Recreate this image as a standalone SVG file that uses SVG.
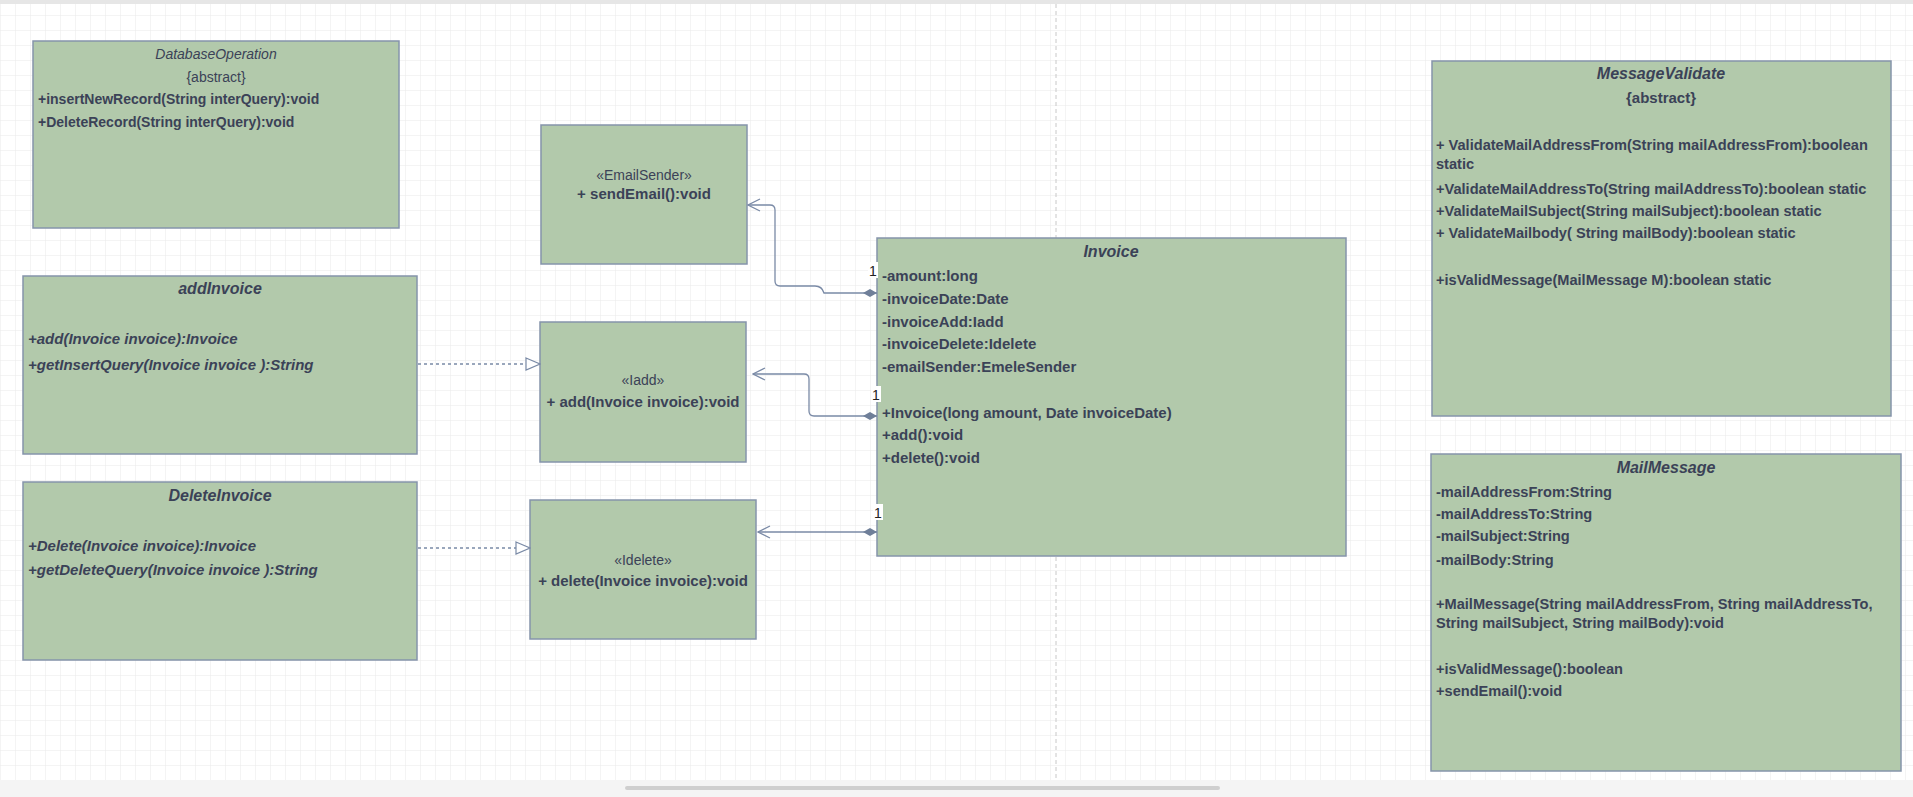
<svg xmlns="http://www.w3.org/2000/svg" width="1913" height="797" viewBox="0 0 1913 797">
<defs>
<pattern id="g" width="15" height="15" patternUnits="userSpaceOnUse"><path d="M15 0H0V15" fill="none" stroke="#e9e9e9" stroke-width="1"/></pattern>
<marker id="open" markerWidth="14" markerHeight="14" refX="13" refY="7" orient="auto" markerUnits="userSpaceOnUse"><path d="M1 1L13 7L1 13" fill="none" stroke="#7a8aa6" stroke-width="1.3"/></marker>
<marker id="tri" markerWidth="16" markerHeight="16" refX="15" refY="8" orient="auto" markerUnits="userSpaceOnUse"><path d="M1 2L15 8L1 14Z" fill="#fff" stroke="#7a8aa6" stroke-width="1.2"/></marker>
<marker id="dia" markerWidth="18" markerHeight="12" refX="1" refY="6" orient="auto" markerUnits="userSpaceOnUse"><path d="M1 6L8 2L15 6L8 10Z" fill="#6f7f99"/></marker>
</defs>
<style>
.box{fill:#b2c9ab;stroke:#8594ab;stroke-width:1.5}
text{font-family:"Liberation Sans",Arial,sans-serif;font-size:14px;font-weight:bold;fill:#3b4257}
.t{font-size:16px;font-style:italic;text-anchor:middle}
.c{text-anchor:middle}
.i{font-style:italic}
.big{font-size:15px}
.m{font-size:14.6px}
.ln{fill:none;stroke:#7a8aa6;stroke-width:1.3}
.d{stroke-dasharray:3 3}
.lab{font-weight:normal;font-size:14px;fill:#222}
</style>
<rect width="1913" height="797" fill="#fff"/>
<rect x="0" y="4" width="1913" height="776" fill="url(#g)"/>
<rect x="0" y="0" width="1913" height="4" fill="#e6e6e6"/>
<line x1="1056" y1="4" x2="1056" y2="780" stroke="#c8c8c8" stroke-dasharray="4 3"/>
<rect x="0" y="780" width="1913" height="17" fill="#f4f4f4"/>
<rect x="625" y="786" width="595" height="4" rx="2" fill="#cfcfcf"/>
<g id="DatabaseOperation"><rect class="box" x="33" y="41" width="366" height="187"/>
<text class="c i" x="216" y="59" style="font-weight:normal">DatabaseOperation</text>
<text class="c" x="216" y="82" style="font-weight:normal">{abstract}</text>
<text x="38" y="104">+insertNewRecord(String interQuery):void</text>
<text x="38" y="127">+DeleteRecord(String interQuery):void</text></g>
<g id="EmailSender"><rect class="box" x="541" y="125" width="206" height="139"/>
<text class="c" x="644" y="180" style="font-weight:normal">«EmailSender»</text>
<text class="c big" x="644" y="199">+ sendEmail():void</text></g>
<g id="addInvoice"><rect class="box" x="23" y="276" width="394" height="178"/>
<text class="t" x="220" y="294">addInvoice</text>
<text class="i big" x="28" y="344">+add(Invoice invoice):Invoice</text>
<text class="i big" x="28" y="370">+getInsertQuery(Invoice invoice ):String</text></g>
<g id="Iadd"><rect class="box" x="540" y="322" width="206" height="140"/>
<text class="c" x="643" y="385" style="font-weight:normal">«Iadd»</text>
<text class="c big" x="643" y="407">+ add(Invoice invoice):void</text></g>
<g id="DeleteInvoice"><rect class="box" x="23" y="482" width="394" height="178"/>
<text class="t" x="220" y="501">DeleteInvoice</text>
<text class="i big" x="28" y="551">+Delete(Invoice invoice):Invoice</text>
<text class="i big" x="28" y="575">+getDeleteQuery(Invoice invoice ):String</text></g>
<g id="Idelete"><rect class="box" x="530" y="500" width="226" height="139"/>
<text class="c" x="643" y="565" style="font-weight:normal">«Idelete»</text>
<text class="c big" x="643" y="586">+ delete(Invoice invoice):void</text></g>
<g id="Invoice"><rect class="box" x="877" y="238" width="469" height="318"/>
<text class="t" x="1111" y="257">Invoice</text>
<text class="big" x="882" y="281">-amount:long</text>
<text class="big" x="882" y="304">-invoiceDate:Date</text>
<text class="big" x="882" y="327">-invoiceAdd:Iadd</text>
<text class="big" x="882" y="349">-invoiceDelete:Idelete</text>
<text class="big" x="882" y="372">-emailSender:EmeleSender</text>
<text class="big" x="882" y="418">+Invoice(long amount, Date invoiceDate)</text>
<text class="big" x="882" y="440">+add():void</text>
<text class="big" x="882" y="463">+delete():void</text></g>
<g id="MessageValidate"><rect class="box" x="1432" y="61" width="459" height="355"/>
<text class="t" x="1661" y="79">MessageValidate</text>
<text class="c big" x="1661" y="103">{abstract}</text>
<text class="m" x="1436" y="150">+ ValidateMailAddressFrom(String mailAddressFrom):boolean</text>
<text class="m" x="1436" y="169">static</text>
<text class="m" x="1436" y="194">+ValidateMailAddressTo(String mailAddressTo):boolean static</text>
<text class="m" x="1436" y="216">+ValidateMailSubject(String mailSubject):boolean static</text>
<text class="m" x="1436" y="238">+ ValidateMailbody( String mailBody):boolean static</text>
<text class="m" x="1436" y="285">+isValidMessage(MailMessage M):boolean static</text></g>
<g id="MailMessage"><rect class="box" x="1431" y="454" width="470" height="317"/>
<text class="t" x="1666" y="473">MailMessage</text>
<text class="m" x="1436" y="497">-mailAddressFrom:String</text>
<text class="m" x="1436" y="519">-mailAddressTo:String</text>
<text class="m" x="1436" y="541">-mailSubject:String</text>
<text class="m" x="1436" y="565">-mailBody:String</text>
<text class="m" x="1436" y="609">+MailMessage(String mailAddressFrom, String mailAddressTo,</text>
<text class="m" x="1436" y="628">String mailSubject, String mailBody):void</text>
<text class="m" x="1436" y="674">+isValidMessage():boolean</text>
<text class="m" x="1436" y="696">+sendEmail():void</text></g>
<g id="connectors">
<path class="ln" d="M877 293H824Q822 286 815 286H780Q775 286 775 281V210Q775 205 770 205H748" marker-start="url(#dia)" marker-end="url(#open)"/>
<path class="ln" d="M877 416H814Q809 416 809 411V379Q809 374 804 374H753" marker-start="url(#dia)" marker-end="url(#open)"/>
<path class="ln" d="M877 532H758" marker-start="url(#dia)" marker-end="url(#open)"/>
<path class="ln d" d="M418 364H540" marker-end="url(#tri)"/>
<path class="ln d" d="M418 548H530" marker-end="url(#tri)"/>
<rect x="868" y="262" width="10" height="16" fill="#fff"/><text class="lab" x="869" y="276">1</text>
<rect x="871" y="386" width="10" height="16" fill="#fff"/><text class="lab" x="872" y="400">1</text>
<rect x="873" y="504" width="10" height="16" fill="#fff"/><text class="lab" x="874" y="518">1</text>
</g>
</svg>
